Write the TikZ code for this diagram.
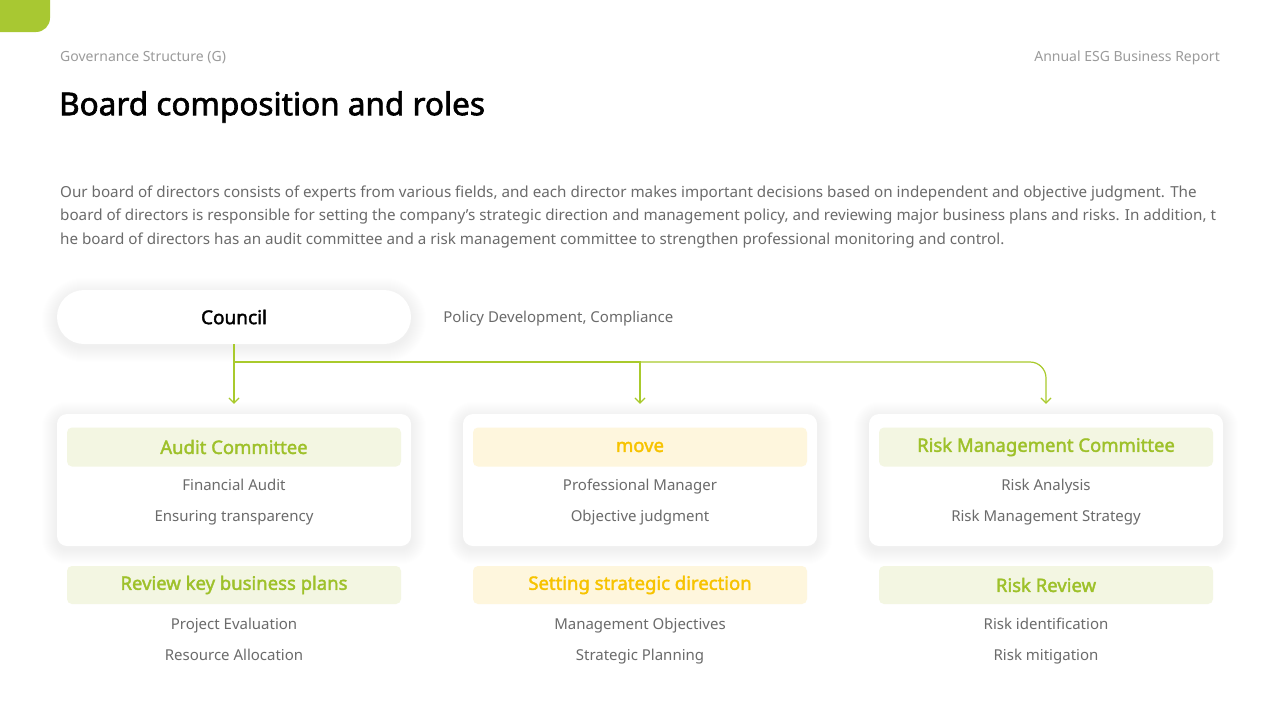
\documentclass[tikz,border=0pt]{standalone}
\usepackage{xcolor}
\usepackage{fontspec}
\setmainfont{Noto Sans}[BoldFont=Noto Sans,BoldFeatures={FakeBold=2}]
\usepackage{tikz}
\usetikzlibrary{arrows.meta,positioning,backgrounds}
\definecolor{LimeTab}  {HTML}{A8C832}
\definecolor{LimeLine} {HTML}{A9CA2C}
\definecolor{LimeText} {HTML}{9EC12A}
\definecolor{LimeSoft} {HTML}{F3F6E2}
\definecolor{GoldText} {HTML}{F7C300}
\definecolor{GoldSoft} {HTML}{FEF6DD}
\definecolor{HeadGray} {HTML}{9B9B9B}
\definecolor{BodyGray} {HTML}{6B6B6B}

\begin{document}
\begin{tikzpicture}[x=1pt,y=-1pt,
  pill/.style={fill=white,rounded corners=27pt,minimum width=354pt,minimum height=54pt,
      font=\fontsize{19}{22}\selectfont\bfseries,text=black},
  card/.style={fill=white,rounded corners=10pt,minimum width=354pt,minimum height=132pt},
  band/.style={rounded corners=5pt,minimum width=334pt,minimum height=39pt,inner sep=0pt,
      font=\fontsize{18.5}{22}\selectfont\bfseries},
  item/.style={text=BodyGray,font=\fontsize{15}{18}\selectfont,inner sep=0pt},
  haze/.style={fill=black,opacity=0.0045},
  link/.style={draw=LimeLine,line width=1.2pt,-{Straight Barb[length=5pt,width=10pt]},shorten >=10pt}]
  \useasboundingbox (0,0) rectangle (1280,720);
  \fill[LimeTab,rounded corners=14pt] (-30,-30) rectangle (50,32);

  \node[anchor=west,text=HeadGray,font=\fontsize{14}{16}\selectfont,inner sep=0pt] (section) at (60,58) {Governance Structure (G)};
  \node[anchor=east,text=HeadGray,font=\fontsize{14}{16}\selectfont,inner sep=0pt] (report) at (1220,58) {Annual ESG Business Report};
  \node[anchor=west,font=\fontsize{31.5}{36}\selectfont\bfseries,inner sep=0pt] (title) at (59,107) {Board composition and roles};
  \node[anchor=north west,align=left,inner sep=0pt,text=BodyGray,font=\fontsize{15.2}{23.5}\selectfont] (intro) at (60,185.5) {%
    Our board of directors consists of experts from various fields, and each director makes important decisions based on independent and objective judgment. The\\
    board of directors is responsible for setting the company's strategic direction and management policy, and reviewing major business plans and risks. In addition, t\\
    he board of directors has an audit committee and a risk management committee to strengthen professional monitoring and control.};

  \node[pill] (council) at (234,317) {Council};
  \node[item,anchor=west,right=32pt of council,yshift=-1.5pt] (policy) {Policy Development, Compliance};

  \foreach \x/\name/\tone/\head/\a/\b/\foot/\c/\d in {
      234/audit/Lime/Audit Committee/Financial Audit/Ensuring transparency/Review key business plans/Project Evaluation/Resource Allocation,
      640/move/Gold/move/Professional Manager/Objective judgment/Setting strategic direction/Management Objectives/Strategic Planning,
      1046/risk/Lime/Risk Management Committee/Risk Analysis/Risk Management Strategy/Risk Review/Risk identification/Risk mitigation}{
    \node[card] (\name) at (\x,480) {};
    \node[band,fill=\tone Soft,text=\tone Text] (\name-head) at (\x,447) {\head};
    \node[item,anchor=base] (\name-a) at (\x,490) {\a};
    \node[item,anchor=base] (\name-b) at (\x,521) {\b};
    \node[band,fill=\tone Soft,text=\tone Text,minimum height=38pt] (\name-foot) at (\x,585) {\foot};
    \node[item,anchor=base] (\name-c) at (\x,629) {\c};
    \node[item,anchor=base] (\name-d) at (\x,660) {\d};
  }

  \begin{scope}[on background layer]
    \fill[white] (0,0) rectangle (1280,720);
    \foreach \s in {1,...,15}{
      \pgfmathsetmacro\r{27+\s}
      \fill[haze,rounded corners=\r pt] ([shift={(-\s,-\s+3)}]council.north west) rectangle ([shift={(\s,\s+3)}]council.south east);
      \pgfmathsetmacro\r{10+\s}
      \foreach \n in {audit,move,risk}
        \fill[haze,rounded corners=\r pt] ([shift={(-\s,-\s+3)}]\n.north west) rectangle ([shift={(\s,\s+3)}]\n.south east);
    }
  \end{scope}

  \coordinate (split) at (234,362);
  \draw[link] (council.south) -- (audit.north);
  \draw[link] (split) -| (move.north);
  \draw[link,rounded corners=16pt] (split) -| (risk.north);
\end{tikzpicture}
\end{document}
